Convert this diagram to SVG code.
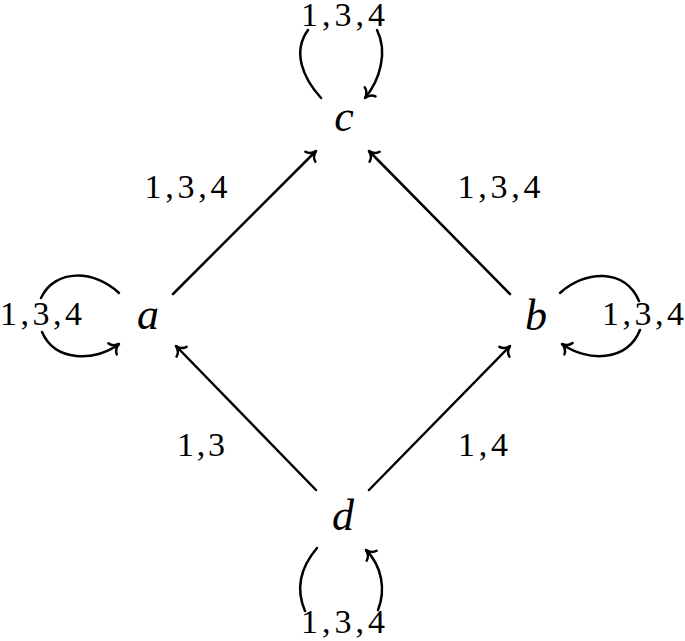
<svg xmlns="http://www.w3.org/2000/svg" width="685" height="641" viewBox="0 0 685 641">
<style>
.node{font-family:"Liberation Serif","Times New Roman",serif;font-style:italic;font-size:44px;fill:#000}
.lbl{font-family:"Liberation Serif","Times New Roman",serif;font-size:34px;fill:#000}
.edge{fill:none;stroke:#000;stroke-width:2.5;stroke-linecap:round}
</style>
<defs>
<marker id="to" markerUnits="userSpaceOnUse" markerWidth="20" markerHeight="20" viewBox="-10 -10 20 20" refX="0" refY="0" orient="auto" overflow="visible">
<path d="M-8,-7 C-7,-3 -3,-0.7 0,0 C-3,0.7 -7,3 -8,7" fill="none" stroke="#000" stroke-width="2.5" stroke-linecap="round"/>
</marker>
</defs>
<rect width="685" height="641" fill="#fff"/>
<g id="connectors">
<path class="edge" d="M173,294 L316,151" marker-end="url(#to)"/>
<path class="edge" d="M510,294 L369,151" marker-end="url(#to)"/>
<path class="edge" d="M316,490 L176,346" marker-end="url(#to)"/>
<path class="edge" d="M369,490 L510,346" marker-end="url(#to)"/>
<path class="edge" d="M321,98 C303,78 292,52 308,30"/>
<path class="edge" d="M377,30 C388,52 380,80 365,98" marker-end="url(#to)"/>
<path class="edge" d="M119,293 C95,270 55,268 41,298"/>
<path class="edge" d="M42,332 C55,362 95,362 119,344" marker-end="url(#to)"/>
<path class="edge" d="M560,293 C585,270 625,268 639,301"/>
<path class="edge" d="M640,330 C627,362 587,362 562,344" marker-end="url(#to)"/>
<path class="edge" d="M317,548 C300,568 296,590 305,611"/>
<path class="edge" d="M378,610 C386,590 382,566 366,550" marker-end="url(#to)"/>
<text class="lbl" x="343" y="26" text-anchor="middle" textLength="84" lengthAdjust="spacing">1,3,4</text>
<text class="lbl" x="186" y="198" text-anchor="middle" textLength="83" lengthAdjust="spacing">1,3,4</text>
<text class="lbl" x="499" y="198" text-anchor="middle" textLength="83" lengthAdjust="spacing">1,3,4</text>
<text class="lbl" x="41" y="325" text-anchor="middle" textLength="82" lengthAdjust="spacing">1,3,4</text>
<text class="lbl" x="643" y="325" text-anchor="middle" textLength="82" lengthAdjust="spacing">1,3,4</text>
<text class="lbl" x="201" y="456" text-anchor="middle" textLength="48" lengthAdjust="spacing">1,3</text>
<text class="lbl" x="483" y="456" text-anchor="middle" textLength="50" lengthAdjust="spacing">1,4</text>
<text class="lbl" x="343" y="633" text-anchor="middle" textLength="84" lengthAdjust="spacing">1,3,4</text>
</g>
<g id="node-a"><text class="node" x="148" y="329" text-anchor="middle">a</text></g>
<g id="node-b"><text class="node" x="536" y="330" text-anchor="middle">b</text></g>
<g id="node-c"><text class="node" x="344" y="131" text-anchor="middle">c</text></g>
<g id="node-d"><text class="node" x="343" y="530" text-anchor="middle">d</text></g>
</svg>
